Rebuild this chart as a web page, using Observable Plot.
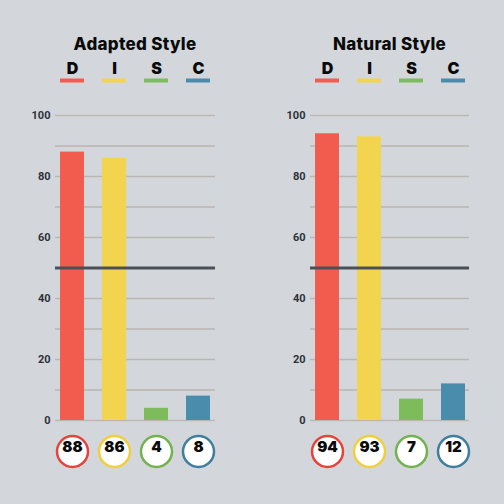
<!DOCTYPE html>
<html>
<head>
<meta charset="utf-8">
<script src="https://cdn.jsdelivr.net/npm/d3@7"></script>
<script src="https://cdn.jsdelivr.net/npm/@observablehq/plot@0.6"></script>
<style>
  html, body { margin: 0; padding: 0; background: #d3d7db; }
  #wrap { display: flex; width: 504px; height: 504px; }
  .panel { width: 252px; }
  .title { height: 24px; margin-top: 32px; line-height: 24px; font-family: Inter, "Open Sans", sans-serif; font-weight: 800; font-size: 17px; color: #0a0a0a; text-align: center; letter-spacing: 0.3px; box-sizing: border-box; }
</style>
</head>
<body>
<div id="wrap"></div>
<script>
const letters = ["D", "I", "S", "C"];
const colors = ["#f25c4f", "#f3d44f", "#7dbb5b", "#4a8cab"];
const ringColors = ["#e8433b", "#f1cf3c", "#74b24f", "#3f7e9e"];
const panelTitles = ["Adapted Style", "Natural Style"];
const adaptedValues = [88, 86, 4, 8];
const naturalValues = [94, 93, 7, 12];
const panelValues = [adaptedValues, naturalValues];
const threshold = 50;
const gridTicks = d3.range(0, 101, 10);
const labelTicks = [0, 20, 40, 60, 80, 100];
const panelMargins = [[55, 37], [58, 35]];

const wrap = document.getElementById("wrap");
panelTitles.forEach((title, pi) => {
  const data = letters.map((l, i) => ({letter: l, value: panelValues[pi][i], color: colors[i], ring: ringColors[i]}));
  const panel = document.createElement("div");
  panel.className = "panel";
  const t = document.createElement("div");
  t.className = "title";
  t.style.paddingLeft = panelMargins[pi][0] + "px";
  t.style.paddingRight = panelMargins[pi][1] + "px";
  t.textContent = title;
  panel.appendChild(t);
  const chart = Plot.plot({
    width: 252,
    height: 448,
    marginTop: 59,
    marginBottom: 84,
    marginLeft: panelMargins[pi][0],
    marginRight: panelMargins[pi][1],
    style: {background: "transparent", overflow: "visible"},
    x: {domain: letters, paddingInner: 0.44, paddingOuter: 0.094, axis: null},
    y: {domain: [0, 100], axis: null},
    marks: [
      Plot.ruleY(gridTicks, {stroke: "#bab6b1", strokeWidth: 1.3}),
      Plot.axisY(labelTicks, {tickSize: 0, tickPadding: 5, fontSize: 11, fontWeight: 700, fill: "#2d323a", fontFamily: "Roboto, sans-serif", label: null}),
      Plot.barY(data, {x: "letter", y: "value", fill: "color"}),
      Plot.ruleY([threshold], {stroke: "#4b5058", strokeWidth: 3}),
      Plot.text(data, {x: "letter", text: "letter", frameAnchor: "top", dy: -53, fontSize: 16, fontWeight: 900, fill: "#0a0a0a", fontFamily: "Inter, sans-serif"}),
      Plot.tickY(data, {x: "letter", y: () => 100, dy: -35, stroke: "color", strokeWidth: 4}),
      Plot.dot(data, {x: "letter", frameAnchor: "bottom", dy: 31, r: 15.5, fill: "white", stroke: "ring", strokeWidth: 2.5}),
      Plot.text(data, {x: "letter", text: d => String(d.value), frameAnchor: "bottom", dy: 31, fontSize: 15, fontWeight: 900, fill: "#0a0a0a", fontFamily: "Inter, sans-serif"})
    ]
  });
  panel.appendChild(chart);
  wrap.appendChild(panel);
});
</script>
</body>
</html>
